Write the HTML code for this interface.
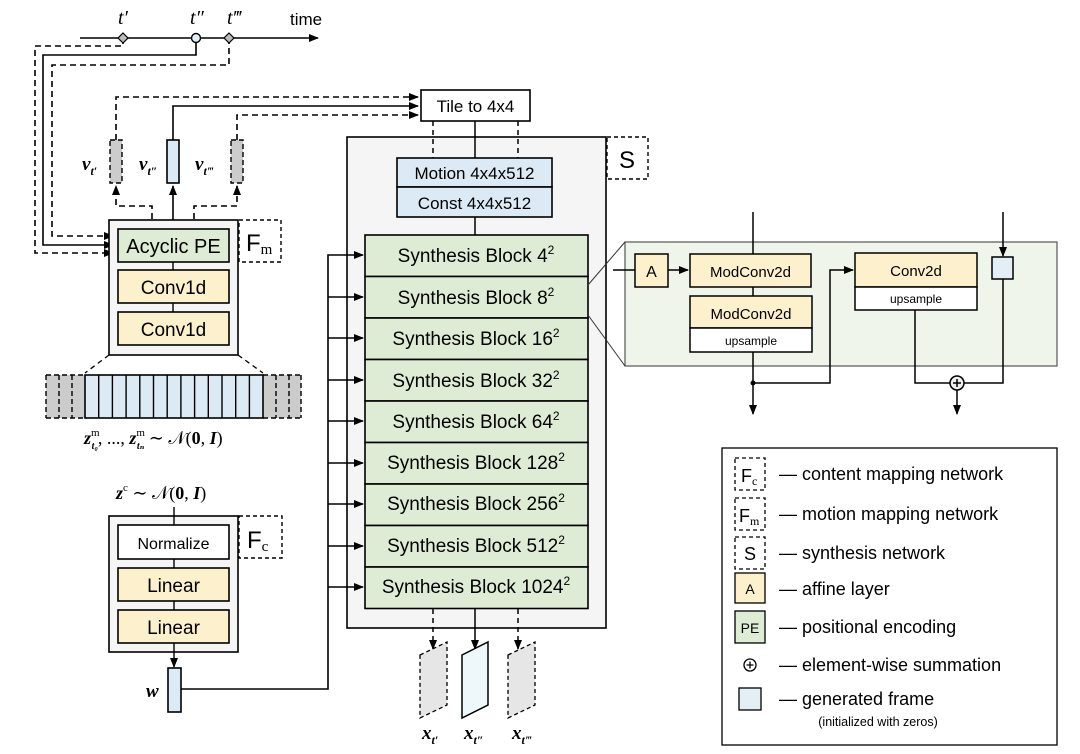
<!DOCTYPE html>
<html><head><meta charset="utf-8"><style>
html,body{margin:0;padding:0;background:#fff;}
svg{display:block;font-family:"Liberation Sans","DejaVu Sans",sans-serif;}
.m{font-family:"Liberation Serif","DejaVu Serif",serif;font-style:italic;font-weight:bold;}
.t{font-family:"Liberation Serif","DejaVu Serif",serif;font-style:italic;font-weight:normal;}
.r{font-family:"Liberation Serif","DejaVu Serif",serif;}
</style></head><body>
<svg width="1080" height="754" viewBox="0 0 1080 754" xmlns="http://www.w3.org/2000/svg">
<defs>
<marker id="ar" markerWidth="10" markerHeight="8" refX="9" refY="4" orient="auto" markerUnits="userSpaceOnUse"><path d="M0,0 L10,4 L0,8 z" fill="#000"/></marker>
</defs>
<g stroke="#000" stroke-width="1.6" fill="none">
<line x1="80" y1="38" x2="318" y2="38" marker-end="url(#ar)"/>
<path d="M123,38 V46 H35 V253 H113" stroke-dasharray="6,4" marker-end="url(#ar)"/>
<path d="M196,38 V55 H43 V245 H113" marker-end="url(#ar)"/>
<path d="M229,38 V65 H52 V236 H113" stroke-dasharray="6,4" marker-end="url(#ar)"/>
<path d="M116,140 V97 H418" stroke-dasharray="6,4" marker-end="url(#ar)"/>
<path d="M173,140 V106 H418" marker-end="url(#ar)"/>
<path d="M237,140 V115 H418" stroke-dasharray="6,4" marker-end="url(#ar)"/>
<path d="M152,229 V206 H116 V186" stroke-dasharray="6,4" marker-end="url(#ar)"/>
<path d="M173,229 V186" marker-end="url(#ar)"/>
<path d="M194,229 V206 H237 V186" stroke-dasharray="6,4" marker-end="url(#ar)"/>
</g>
<path d="M123,33 L128,38 L123,43 L118,38z" fill="#bbb" stroke="#000" stroke-width="1.2"/>
<circle cx="196" cy="38" r="4.5" fill="#e3f0f8" stroke="#000" stroke-width="1.4"/>
<path d="M229,33 L234,38 L229,43 L224,38z" fill="#bbb" stroke="#000" stroke-width="1.2"/>
<text x="118" y="24" class="t" font-size="20">t′</text>
<text x="190" y="24" class="t" font-size="20">t″</text>
<text x="227" y="24" class="t" font-size="20">t‴</text>
<text x="290" y="25" font-size="17">time</text>
<rect x="110" y="140" width="12" height="43" fill="#ccc" stroke="#000" stroke-width="1.4" stroke-dasharray="5,3"/>
<rect x="167" y="140" width="12" height="43" fill="#dbeaf5" stroke="#000" stroke-width="1.6"/>
<rect x="231" y="140" width="12" height="43" fill="#ccc" stroke="#000" stroke-width="1.4" stroke-dasharray="5,3"/>
<text x="82" y="170" class="m" font-size="19">v<tspan font-size="12" dy="5">t′</tspan></text>
<text x="139" y="170" class="m" font-size="19">v<tspan font-size="12" dy="5">t″</tspan></text>
<text x="195" y="170" class="m" font-size="19">v<tspan font-size="12" dy="5">t‴</tspan></text>
<rect x="109" y="220" width="129" height="135" fill="#f5f5f5" stroke="#000" stroke-width="1.6"/>
<rect x="239" y="220" width="42" height="42" fill="#fff" stroke="#000" stroke-width="1.4" stroke-dasharray="4,3"/>
<text x="246" y="251" font-size="24">F<tspan class="r" font-size="15" dy="3">m</tspan></text>
<line x1="173" y1="262" x2="173" y2="312" stroke="#000" stroke-width="1.4"/>
<rect x="118" y="229" width="111" height="33" fill="#dfecd5" stroke="#000" stroke-width="1.6"/>
<text x="173.5" y="253" font-size="20" text-anchor="middle">Acyclic PE</text>
<rect x="118" y="270" width="111" height="33" fill="#fdf0cc" stroke="#000" stroke-width="1.6"/>
<text x="173.5" y="294" font-size="19" text-anchor="middle">Conv1d</text>
<rect x="118" y="312" width="111" height="33" fill="#fdf0cc" stroke="#000" stroke-width="1.6"/>
<text x="173.5" y="336" font-size="19" text-anchor="middle">Conv1d</text>
<g stroke="#000" stroke-width="1.3" stroke-dasharray="5,4"><line x1="109" y1="355" x2="85" y2="373"/><line x1="238" y1="355" x2="263" y2="373"/></g>
<g stroke="#000" stroke-width="1.4">
<rect x="46" y="375" width="39" height="43" fill="#ccc" stroke="none"/>
<rect x="263" y="375" width="38" height="43" fill="#ccc" stroke="none"/>
<path d="M46,375 H85 M46,418 H85 M46,375 V418 M59,375 V418 M72,375 V418 M263,375 H301 M263,418 H301 M276,375 V418 M289,375 V418 M301,375 V418" fill="none" stroke-dasharray="5,3"/>
<rect x="85" y="375" width="178" height="43" fill="#dbeaf5" stroke-width="1.6"/>
<path d="M98.7,375V418M112.4,375V418M126.1,375V418M139.8,375V418M153.5,375V418M167.2,375V418M180.9,375V418M194.6,375V418M208.3,375V418M222,375V418M235.7,375V418M249.4,375V418" fill="none"/>
</g>
<text x="84" y="444" class="m" font-size="18">z<tspan font-size="11" dy="-8" font-weight="normal" font-style="normal">m</tspan><tspan font-size="10" dx="-8" dy="13">t₀</tspan><tspan dy="-5" font-style="normal" font-weight="normal">, ..., </tspan>z<tspan font-size="11" dy="-8" font-weight="normal" font-style="normal">m</tspan><tspan font-size="10" dx="-8" dy="13">tₙ</tspan><tspan dy="-5" font-style="normal" font-weight="normal"> ∼ 𝒩(</tspan><tspan font-style="normal">0</tspan><tspan font-style="normal" font-weight="normal">, </tspan>I<tspan font-style="normal" font-weight="normal">)</tspan></text>
<text x="116" y="499" class="m" font-size="18">z<tspan font-size="11" dy="-8" font-weight="normal" font-style="normal">c</tspan><tspan dy="8" font-style="normal" font-weight="normal"> ∼ 𝒩(</tspan><tspan font-style="normal">0</tspan><tspan font-style="normal" font-weight="normal">, </tspan>I<tspan font-style="normal" font-weight="normal">)</tspan></text>
<rect x="109" y="516" width="129" height="136" fill="#f5f5f5" stroke="#000" stroke-width="1.6"/>
<rect x="239" y="516" width="43" height="42" fill="#fff" stroke="#000" stroke-width="1.4" stroke-dasharray="4,3"/>
<text x="247" y="548" font-size="24">F<tspan class="r" font-size="15" dy="3">c</tspan></text>
<line x1="174" y1="507" x2="174" y2="610" stroke="#000" stroke-width="1.4"/>
<rect x="118" y="525" width="111" height="34" fill="#fff" stroke="#000" stroke-width="1.6"/>
<text x="173.5" y="549" font-size="16" text-anchor="middle">Normalize</text>
<rect x="118" y="568" width="111" height="33" fill="#fdf0cc" stroke="#000" stroke-width="1.6"/>
<text x="173.5" y="592" font-size="19" text-anchor="middle">Linear</text>
<rect x="118" y="610" width="111" height="33" fill="#fdf0cc" stroke="#000" stroke-width="1.6"/>
<text x="173.5" y="634" font-size="19" text-anchor="middle">Linear</text>
<line x1="174" y1="643" x2="174" y2="667" stroke="#000" stroke-width="1.4" marker-end="url(#ar)"/>
<rect x="168" y="668" width="13" height="44" fill="#dbeaf5" stroke="#000" stroke-width="1.6"/>
<text x="146" y="697" class="m" font-size="19">w</text>
<rect x="421" y="90" width="109" height="31" fill="#fff" stroke="#000" stroke-width="1.6"/>
<text x="475.5" y="112" font-size="17" text-anchor="middle">Tile to 4x4</text>
<rect x="347" y="137" width="259" height="491" fill="#f5f5f5" stroke="#000" stroke-width="1.6"/>
<rect x="607" y="137" width="41" height="42" fill="#fff" stroke="#000" stroke-width="1.4" stroke-dasharray="4,3"/>
<text x="627" y="168" font-size="24" text-anchor="middle">S</text>
<g stroke="#000" stroke-width="1.6" fill="none">
<path d="M181,689 H328 V255 H363" marker-end="url(#ar)"/>
<path d="M328,297 H363" marker-end="url(#ar)"/>
<path d="M328,338 H363" marker-end="url(#ar)"/>
<path d="M328,380 H363" marker-end="url(#ar)"/>
<path d="M328,421 H363" marker-end="url(#ar)"/>
<path d="M328,463 H363" marker-end="url(#ar)"/>
<path d="M328,504 H363" marker-end="url(#ar)"/>
<path d="M328,546 H363" marker-end="url(#ar)"/>
<path d="M328,587 H363" marker-end="url(#ar)"/>
</g>
<g stroke="#000" stroke-width="1.5">
<line x1="433" y1="121" x2="433" y2="158" stroke-dasharray="5,4"/>
<line x1="475" y1="121" x2="475" y2="158"/>
<line x1="518" y1="121" x2="518" y2="158" stroke-dasharray="5,4"/>
<line x1="475" y1="217" x2="475" y2="235"/>
</g>
<rect x="397" y="158" width="155" height="29" fill="#dbeaf5" stroke="#000" stroke-width="1.6"/>
<rect x="397" y="187" width="155" height="30" fill="#dbeaf5" stroke="#000" stroke-width="1.6"/>
<text x="474.5" y="179" font-size="17" text-anchor="middle">Motion 4x4x512</text>
<text x="474.5" y="209" font-size="17" text-anchor="middle">Const 4x4x512</text>
<g stroke="#000" stroke-width="1.6" fill="#dfecd5">
<rect x="365" y="235" width="223" height="41.5"/><rect x="365" y="276.5" width="223" height="41.5"/><rect x="365" y="318" width="223" height="41.5"/><rect x="365" y="359.5" width="223" height="41.5"/><rect x="365" y="401" width="223" height="41.5"/><rect x="365" y="442.5" width="223" height="41.5"/><rect x="365" y="484" width="223" height="41.5"/><rect x="365" y="525.5" width="223" height="41.5"/><rect x="365" y="567" width="223" height="41.5"/>
</g>
<g font-size="19" text-anchor="middle">
<text x="476" y="262">Synthesis Block 4<tspan font-size="12" dy="-8">2</tspan></text>
<text x="476" y="304">Synthesis Block 8<tspan font-size="12" dy="-8">2</tspan></text>
<text x="476" y="345">Synthesis Block 16<tspan font-size="12" dy="-8">2</tspan></text>
<text x="476" y="387">Synthesis Block 32<tspan font-size="12" dy="-8">2</tspan></text>
<text x="476" y="428">Synthesis Block 64<tspan font-size="12" dy="-8">2</tspan></text>
<text x="476" y="469">Synthesis Block 128<tspan font-size="12" dy="-8">2</tspan></text>
<text x="476" y="510">Synthesis Block 256<tspan font-size="12" dy="-8">2</tspan></text>
<text x="476" y="552">Synthesis Block 512<tspan font-size="12" dy="-8">2</tspan></text>
<text x="476" y="593">Synthesis Block 1024<tspan font-size="12" dy="-8">2</tspan></text>
</g>
<g stroke="#000" stroke-width="1.5" fill="none">
<line x1="433" y1="609" x2="433" y2="649" stroke-dasharray="5,4" marker-end="url(#ar)"/>
<line x1="475" y1="609" x2="475" y2="649" marker-end="url(#ar)"/>
<line x1="518" y1="609" x2="518" y2="649" stroke-dasharray="5,4" marker-end="url(#ar)"/>
</g>
<path d="M420,655 L447,642 L447,705 L420,718z" fill="#e6e6e6" stroke="#000" stroke-width="1.3" stroke-dasharray="4,3"/>
<path d="M462,655 L488,642 L488,705 L462,718z" fill="#eef8fb" stroke="#000" stroke-width="1.5"/>
<path d="M508,655 L535,642 L535,705 L508,718z" fill="#e6e6e6" stroke="#000" stroke-width="1.3" stroke-dasharray="4,3"/>
<text x="422" y="739" class="m" font-size="19">x<tspan font-size="12" dy="5">t′</tspan></text>
<text x="464" y="739" class="m" font-size="19">x<tspan font-size="12" dy="5">t″</tspan></text>
<text x="512" y="739" class="m" font-size="19">x<tspan font-size="12" dy="5">t‴</tspan></text>
<rect x="625" y="242" width="432" height="124" fill="#eff5ea" stroke="#555" stroke-width="1.2"/>
<g stroke="#333" stroke-width="1"><line x1="588" y1="285" x2="625" y2="242"/><line x1="588" y1="315" x2="625" y2="366"/></g>
<g stroke="#000" stroke-width="1.5" fill="none">
<line x1="613" y1="270" x2="635" y2="270"/>
<line x1="668" y1="270" x2="688" y2="270" marker-end="url(#ar)"/>
<line x1="753" y1="212" x2="753" y2="296"/>
<path d="M753,352 V414" marker-end="url(#ar)"/>
<path d="M753,383 H830 V270 H853" marker-end="url(#ar)"/>
<path d="M915,310 V383 H950"/>
<path d="M1003,279 V383 H964"/>
<path d="M957,390 V414" marker-end="url(#ar)"/>
<path d="M1003,212 V256" marker-end="url(#ar)"/>
</g>
<circle cx="753" cy="383" r="2.5" fill="#000"/>
<circle cx="957" cy="383" r="7" fill="#eee" stroke="#000" stroke-width="1.5"/>
<path d="M953,383H961M957,379V387" stroke="#000" stroke-width="1.5"/>
<rect x="635" y="254" width="33" height="33" fill="#fdf0cc" stroke="#000" stroke-width="1.5"/>
<text x="651.5" y="277" font-size="16" text-anchor="middle">A</text>
<rect x="690" y="254" width="121" height="33" fill="#fdf0cc" stroke="#000" stroke-width="1.5"/>
<text x="750.5" y="277" font-size="15" text-anchor="middle">ModConv2d</text>
<rect x="690" y="296" width="122" height="32" fill="#fdf0cc" stroke="#000" stroke-width="1.5"/>
<rect x="690" y="328" width="122" height="24" fill="#fff" stroke="#000" stroke-width="1.5"/>
<text x="751" y="319" font-size="15" text-anchor="middle">ModConv2d</text>
<text x="751" y="345" font-size="12" text-anchor="middle">upsample</text>
<rect x="855" y="253" width="122" height="34" fill="#fdf0cc" stroke="#000" stroke-width="1.5"/>
<rect x="855" y="287" width="122" height="23" fill="#fff" stroke="#000" stroke-width="1.5"/>
<text x="916" y="276" font-size="15" text-anchor="middle">Conv2d</text>
<text x="916" y="303" font-size="12" text-anchor="middle">upsample</text>
<rect x="992" y="257" width="21" height="22" fill="#e3eff4" stroke="#000" stroke-width="1.5"/>
<rect x="722" y="448" width="335" height="297" fill="#fff" stroke="#000" stroke-width="1.3"/>
<rect x="735" y="458" width="30" height="32" fill="#fff" stroke="#000" stroke-width="1.3" stroke-dasharray="4,3"/>
<text x="741" y="482" font-size="18">F<tspan class="r" font-size="12" dy="3">c</tspan></text>
<rect x="735" y="498" width="30" height="32" fill="#fff" stroke="#000" stroke-width="1.3" stroke-dasharray="4,3"/>
<text x="739" y="522" font-size="18">F<tspan class="r" font-size="12" dy="3">m</tspan></text>
<rect x="735" y="537" width="30" height="32" fill="#fff" stroke="#000" stroke-width="1.3" stroke-dasharray="4,3"/>
<text x="750" y="560" font-size="18" text-anchor="middle">S</text>
<rect x="735" y="573" width="30" height="30" fill="#fdf0cc" stroke="#000" stroke-width="1.3"/>
<text x="750" y="594" font-size="14" text-anchor="middle">A</text>
<rect x="735" y="611" width="30" height="32" fill="#dfecd5" stroke="#000" stroke-width="1.3"/>
<text x="750" y="633" font-size="14" text-anchor="middle">PE</text>
<circle cx="750" cy="665" r="6" fill="#fff" stroke="#000" stroke-width="1.3"/>
<path d="M746.5,665H753.5M750,661.5V668.5" stroke="#000" stroke-width="1.3"/>
<rect x="739" y="688" width="22" height="22" fill="#e3eff4" stroke="#000" stroke-width="1.3"/>
<g font-size="18">
<text x="779" y="480">— content mapping network</text>
<text x="779" y="520">— motion mapping network</text>
<text x="779" y="559">— synthesis network</text>
<text x="779" y="595">— affine layer</text>
<text x="779" y="633">— positional encoding</text>
<text x="779" y="671">— element-wise summation</text>
<text x="779" y="705">— generated frame</text>
</g>
<text x="878" y="726" font-size="12.5" text-anchor="middle">(initialized with zeros)</text>
</svg>
</body></html>
